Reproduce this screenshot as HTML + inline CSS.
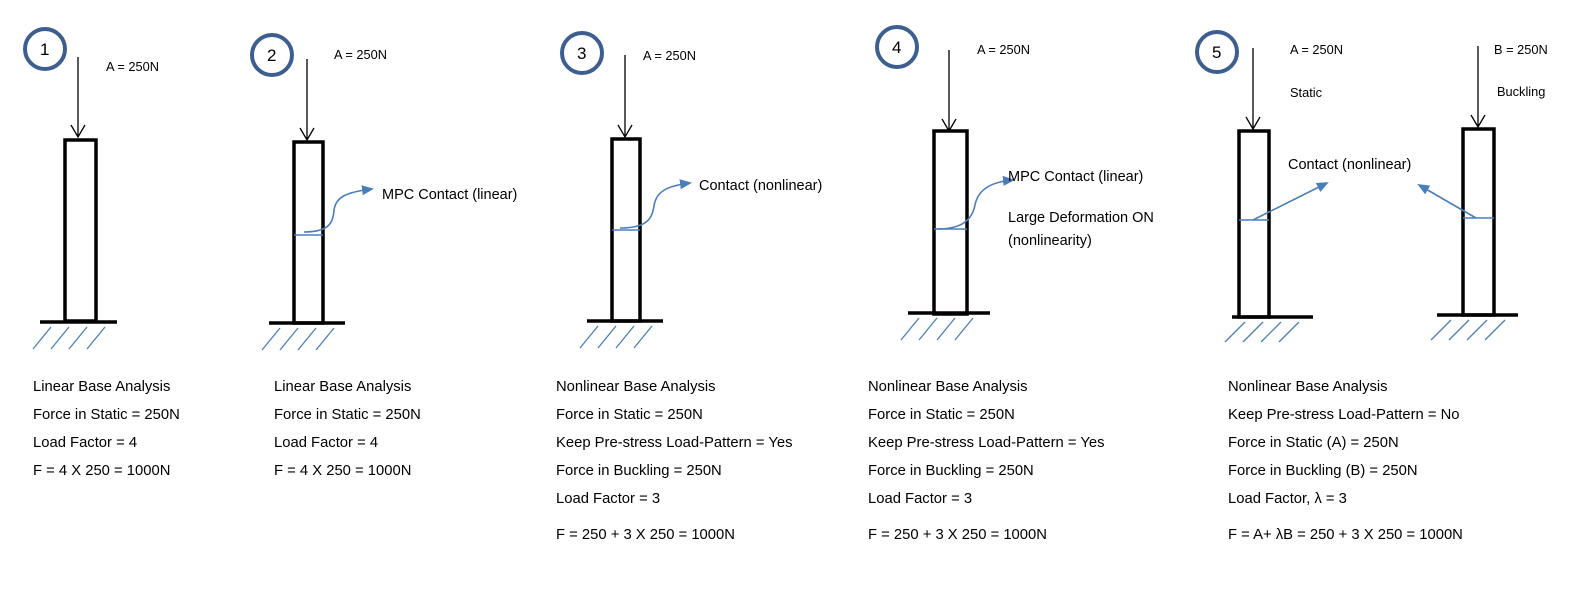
<!DOCTYPE html>
<html><head><meta charset="utf-8"><style>
body{margin:0;background:#fff}
svg{display:block}
text{font-family:"Liberation Sans",sans-serif;font-size:14.5px;fill:#000}
.a{font-size:12.8px}
.b{font-size:14.8px}
.n{font-size:17px}
</style></head><body>
<svg width="1594" height="596" viewBox="0 0 1594 596" xmlns="http://www.w3.org/2000/svg">
<defs>
<marker id="bl" markerWidth="12" markerHeight="10" refX="10" refY="5" orient="auto" markerUnits="userSpaceOnUse"><path d="M0,0 L12,5 L0,10 z" fill="#4a7ebb"/></marker>
</defs>
<g fill="none" stroke="#3d5f8f" stroke-width="4">
<circle cx="45" cy="49" r="20"/><circle cx="272" cy="55" r="20"/><circle cx="582" cy="53" r="20"/><circle cx="897" cy="47" r="20"/><circle cx="1217" cy="52" r="20"/>
</g>
<text class="n" x="40" y="55">1</text><text class="n" x="267" y="61">2</text><text class="n" x="577" y="59">3</text><text class="n" x="892" y="53">4</text><text class="n" x="1212" y="58">5</text>
<g stroke="#000" stroke-width="1.3" fill="none">
<path d="M78,57 V137 M71,125 L78,137 L85,125"/>
<path d="M307,59 V140 M300,128 L307,140 L314,128"/>
<path d="M625,55 V137 M618,125 L625,137 L632,125"/>
<path d="M949,50 V131 M942,119 L949,131 L956,119"/>
<path d="M1253,48 V129 M1246,117 L1253,129 L1260,117"/>
<path d="M1478,46 V127 M1471,115 L1478,127 L1485,115"/>
</g>
<g stroke="#000" stroke-width="3.5" fill="none">
<rect x="65" y="140" width="31" height="181"/><path d="M40,322 H117"/>
<rect x="294" y="142" width="29" height="181"/><path d="M269,323 H345"/>
<rect x="612" y="139" width="28" height="182"/><path d="M587,321 H663"/>
<rect x="934" y="131" width="33" height="183"/><path d="M908,313 H990"/>
<rect x="1239" y="131" width="30" height="186"/><path d="M1232,317 H1313"/>
<rect x="1463" y="129" width="31" height="186"/><path d="M1437,315 H1518"/>
</g>
<g stroke="#4a7ebb" stroke-width="1.3">
<path d="M51,327 L33,349 M69,327 L51,349 M87,327 L69,349 M105,327 L87,349"/>
<path d="M280,328 L262,350 M298,328 L280,350 M316,328 L298,350 M334,328 L316,350"/>
<path d="M598,326 L580,348 M616,326 L598,348 M634,326 L616,348 M652,326 L634,348"/>
<path d="M919,318 L901,340 M937,318 L919,340 M955,318 L937,340 M973,318 L955,340"/>
<path d="M1245,322 L1225,342 M1263,322 L1243,342 M1281,322 L1261,342 M1299,322 L1279,342"/>
<path d="M1451,320 L1431,340 M1469,320 L1449,340 M1487,320 L1467,340 M1505,320 L1485,340"/>
</g>
<g stroke="#4a7ebb" stroke-width="1.6" fill="none">
<path d="M294,235 H323"/><path d="M304,232 C330,232 333,222 334,210 C336,196 348,192 372,189" marker-end="url(#bl)"/>
<path d="M612,230 H640"/><path d="M620,228 C648,228 652,218 654,206 C656,192 666,186 690,183" marker-end="url(#bl)"/>
<path d="M934,229 H967"/><path d="M937,229 C962,229 972,220 975,205 C978,190 990,182 1013,180" marker-end="url(#bl)"/>
<path d="M1239,220 H1269"/><path d="M1253,220 L1327,183" marker-end="url(#bl)"/>
<path d="M1463,218 H1494"/><path d="M1476,218 L1419,185" marker-end="url(#bl)"/>
</g>
<text class="a" x="106" y="71">A = 250N</text>
<text class="a" x="334" y="59">A = 250N</text>
<text x="382" y="199">MPC Contact (linear)</text>
<text class="a" x="643" y="60">A = 250N</text>
<text x="699" y="190">Contact (nonlinear)</text>
<text class="a" x="977" y="54">A = 250N</text>
<text x="1008" y="181">MPC Contact (linear)</text>
<text x="1008" y="222">Large Deformation ON</text>
<text x="1008" y="245">(nonlinearity)</text>
<text class="a" x="1290" y="54">A = 250N</text>
<text class="a" x="1290" y="97">Static</text>
<text class="a" x="1494" y="54">B = 250N</text>
<text class="a" x="1497" y="96">Buckling</text>
<text x="1288" y="169">Contact (nonlinear)</text>
<g class="b">
<text class="b" x="33" y="391">Linear Base Analysis</text>
<text class="b" x="33" y="419">Force in Static = 250N</text>
<text class="b" x="33" y="447">Load Factor = 4</text>
<text class="b" x="33" y="475">F = 4 X 250 = 1000N</text>
<text class="b" x="274" y="391">Linear Base Analysis</text>
<text class="b" x="274" y="419">Force in Static = 250N</text>
<text class="b" x="274" y="447">Load Factor = 4</text>
<text class="b" x="274" y="475">F = 4 X 250 = 1000N</text>
<text class="b" x="556" y="391">Nonlinear Base Analysis</text>
<text class="b" x="556" y="419">Force in Static = 250N</text>
<text class="b" x="556" y="447">Keep Pre-stress Load-Pattern = Yes</text>
<text class="b" x="556" y="475">Force in Buckling = 250N</text>
<text class="b" x="556" y="503">Load Factor = 3</text>
<text class="b" x="556" y="539">F = 250 + 3 X 250 = 1000N</text>
<text class="b" x="868" y="391">Nonlinear Base Analysis</text>
<text class="b" x="868" y="419">Force in Static = 250N</text>
<text class="b" x="868" y="447">Keep Pre-stress Load-Pattern = Yes</text>
<text class="b" x="868" y="475">Force in Buckling = 250N</text>
<text class="b" x="868" y="503">Load Factor = 3</text>
<text class="b" x="868" y="539">F = 250 + 3 X 250 = 1000N</text>
<text class="b" x="1228" y="391">Nonlinear Base Analysis</text>
<text class="b" x="1228" y="419">Keep Pre-stress Load-Pattern = No</text>
<text class="b" x="1228" y="447">Force in Static (A) = 250N</text>
<text class="b" x="1228" y="475">Force in Buckling (B) = 250N</text>
<text class="b" x="1228" y="503">Load Factor, λ = 3</text>
<text class="b" x="1228" y="539">F = A+ λB = 250 + 3 X 250 = 1000N</text>
</g>
</svg>
</body></html>
